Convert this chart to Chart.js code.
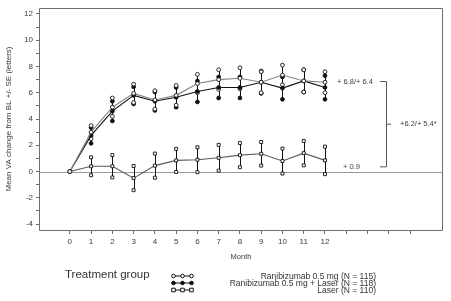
<!DOCTYPE html>
<html>
<head>
<meta charset="utf-8">
<script src="https://cdn.jsdelivr.net/npm/chart.js@4"></script>
<style>
  html, body { margin: 0; padding: 0; background: #fff; }
  #wrap { width: 451px; height: 301px; }
</style>
</head>
<body>
<div id="wrap"><canvas id="myChart" width="451" height="301"></canvas></div>
<script>
// meses
var months = [0, 1, 2, 3, 4, 5, 6, 7, 8, 9, 10, 11, 12];

// Ranibizumab 0.5 mg (circulo abierto)
var raniMean = [0, 3.0, 4.9, 5.95, 5.45, 5.8, 6.7, 7.0, 7.1, 6.8, 7.35, 6.9, 6.8];
var raniSE   = [0, 0.5, 0.7, 0.7, 0.7, 0.75, 0.7, 0.75, 0.8, 0.8, 0.75, 0.85, 0.8];

// Ranibizumab 0.5 mg + Laser (circulo lleno)
var comboMean = [0, 2.75, 4.6, 5.8, 5.35, 5.65, 6.1, 6.4, 6.4, 6.8, 6.35, 6.9, 6.4];
var comboSE   = [0, 0.6, 0.75, 0.65, 0.7, 0.75, 0.8, 0.8, 0.8, 0.85, 0.85, 0.85, 0.9];

// Laser (cuadrado)
var laserMean = [0, 0.4, 0.4, -0.5, 0.45, 0.85, 0.9, 1.05, 1.25, 1.35, 0.8, 1.4, 0.85];
var laserSE   = [0, 0.68, 0.85, 0.92, 0.92, 0.88, 0.95, 0.98, 0.92, 0.9, 0.95, 0.93, 1.05];

var seriesNames = ['Ranibizumab 0.5 mg (N = 115)', 'Ranibizumab 0.5 mg + Laser (N = 118)', 'Laser (N = 110)'];

// ticks
var xTicks = [0, 1, 2, 3, 4, 5, 6, 7, 8, 9, 10, 11, 12, 13, 14, 15, 16];
var yTicks = [-4, -3, -2, -1, 0, 1, 2, 3, 4, 5, 6, 7, 8, 9, 10, 11, 12];

var textColor = '#3a3a3a';
var frameColor = '#6e6e6e';
var fontFam = '"Liberation Sans", Arial, sans-serif';

function pts(means) {
  return months.map(function (m, i) { return { x: m, y: means[i] }; });
}
function caps(means, se) {
  var out = [];
  months.forEach(function (m, i) {
    if (se[i] > 0) {
      out.push({ x: m, y: means[i] + se[i] });
      out.push({ x: m, y: means[i] - se[i] });
    }
  });
  return out;
}

var styles = [
  { line: '#858585', bg: '#ffffff', shape: 'circle', r: 1.9 },
  { line: '#111111', bg: '#111111', shape: 'circle', r: 1.9 },
  { line: '#5a5a5a', bg: '#ffffff', shape: 'rect', r: 2.1 }
];
var allMeans = [raniMean, comboMean, laserMean];
var allSE = [raniSE, comboSE, laserSE];

var datasets = [];
allMeans.forEach(function (mean, k) {
  var s = styles[k];
  datasets.push({
    label: seriesNames[k],
    data: pts(mean),
    showLine: true,
    borderColor: s.line,
    borderWidth: 1.1,
    pointStyle: s.shape,
    pointRadius: s.r,
    pointBackgroundColor: s.bg,
    pointBorderColor: '#111',
    pointBorderWidth: 0.9,
    tension: 0
  });
});
// extremos de las barras de error
allMeans.forEach(function (mean, k) {
  var s = styles[k];
  datasets.push({
    label: 'se' + k,
    data: caps(mean, allSE[k]),
    showLine: false,
    pointStyle: s.shape,
    pointRadius: s.r,
    pointBackgroundColor: s.bg,
    pointBorderColor: '#111',
    pointBorderWidth: 0.9
  });
});

// barras de error, linea cero, marco, anotaciones y leyenda
var errorPlugin = {
  id: 'errorBars',
  beforeDatasetsDraw: function (chart) {
    var ctx = chart.ctx, xs = chart.scales.x, ys = chart.scales.y, a = chart.chartArea;
    ctx.save();
    // linea en cero
    ctx.strokeStyle = '#9a9a9a';
    ctx.lineWidth = 1;
    ctx.beginPath();
    var y0 = Math.round(ys.getPixelForValue(0)) + 0.5;
    ctx.moveTo(a.left, y0);
    ctx.lineTo(a.right, y0);
    ctx.stroke();
    // barras
    ctx.strokeStyle = '#111';
    allMeans.forEach(function (mean, k) {
      months.forEach(function (m, i) {
        if (allSE[k][i] <= 0) return;
        var px = Math.round(xs.getPixelForValue(m)) + 0.5;
        ctx.beginPath();
        ctx.moveTo(px, ys.getPixelForValue(mean[i] + allSE[k][i]));
        ctx.lineTo(px, ys.getPixelForValue(mean[i] - allSE[k][i]));
        ctx.stroke();
      });
    });
    ctx.restore();
  },
  afterDraw: function (chart) {
    var ctx = chart.ctx, a = chart.chartArea, ys = chart.scales.y;
    ctx.save();
    // marco
    var L = Math.round(a.left) + 0.5, R = Math.round(a.right) - 0.5;
    var T = Math.round(a.top) + 0.5, B = Math.round(a.bottom) + 0.5;
    ctx.strokeStyle = frameColor;
    ctx.lineWidth = 1;
    ctx.beginPath();
    ctx.moveTo(L, T); ctx.lineTo(R, T);
    ctx.lineTo(R, B); ctx.lineTo(L, B);
    ctx.closePath();
    ctx.stroke();

    // anotaciones
    ctx.fillStyle = textColor;
    ctx.font = '7.5px ' + fontFam;
    ctx.textBaseline = 'middle';
    ctx.textAlign = 'left';
    var yTop = ys.getPixelForValue(6.85);
    var yBot = ys.getPixelForValue(0.36);
    var yMid = (yTop + yBot) / 2;
    ctx.fillText('+ 6.8/+ 6.4', 337, yTop);
    ctx.fillText('+ 0.9', 343, yBot);
    ctx.fillText('+6.2/+ 5.4*', 400, yMid);
    // corchete
    ctx.strokeStyle = '#555';
    ctx.beginPath();
    ctx.moveTo(380, yTop); ctx.lineTo(386.5, yTop);
    ctx.lineTo(386.5, yBot); ctx.lineTo(380, yBot);
    ctx.moveTo(386.5, yMid); ctx.lineTo(391, yMid);
    ctx.stroke();

    // leyenda
    ctx.font = '11.5px ' + fontFam;
    ctx.fillStyle = '#333';
    ctx.fillText('Treatment group', 65, 275);
    ctx.font = '8.5px ' + fontFam;
    ctx.textAlign = 'right';
    var rows = [277, 284, 291];
    styles.forEach(function (s, k) {
      var y = rows[k];
      ctx.strokeStyle = '#111';
      ctx.lineWidth = 1;
      ctx.beginPath();
      ctx.moveTo(172, y - 1); ctx.lineTo(193, y - 1);
      ctx.stroke();
      [173.5, 182.5, 191.5].forEach(function (x) {
        ctx.beginPath();
        if (s.shape === 'rect') {
          ctx.rect(x - 1.8, y - 2.8, 3.6, 3.6);
        } else {
          ctx.arc(x, y - 1, 1.8, 0, Math.PI * 2);
        }
        ctx.fillStyle = s.bg;
        ctx.fill();
        ctx.stroke();
      });
      ctx.fillStyle = '#333';
      ctx.fillText(seriesNames[k], 376, y);
    });
    ctx.restore();
  }
};

var ctx = document.getElementById('myChart').getContext('2d');
var myChart = new Chart(ctx, {
  type: 'scatter',
  data: { datasets: datasets },
  options: {
    responsive: false,
    animation: false,
    layout: { padding: { left: 0, top: 8, right: 8, bottom: 40 } },
    plugins: {
      legend: { display: false },
      tooltip: { enabled: false }
    },
    scales: {
      x: {
        type: 'linear',
        min: -1.45,
        max: 17.55,
        afterBuildTicks: function (s) {
          s.ticks = xTicks.map(function (v) { return { value: v }; });
        },
        afterFit: function (s) { s.height = 31; },
        grid: { drawOnChartArea: false, drawTicks: true, tickLength: 4, color: frameColor },
        border: { display: false },
        ticks: {
          autoSkip: false,
          maxRotation: 0,
          padding: 3,
          color: textColor,
          font: { family: fontFam, size: 8 },
          callback: function (v) { return v <= 12 ? String(v) : ''; }
        },
        title: {
          display: true,
          text: 'Month',
          color: textColor,
          padding: { top: 3, bottom: 0 },
          font: { family: fontFam, size: 7.5 }
        }
      },
      y: {
        type: 'linear',
        min: -4.45,
        max: 12.45,
        afterBuildTicks: function (s) {
          s.ticks = yTicks.map(function (v) { return { value: v }; });
        },
        afterFit: function (s) { s.width = 39; },
        grid: { drawOnChartArea: false, drawTicks: true, tickLength: 3, color: frameColor },
        border: { display: false },
        ticks: {
          autoSkip: false,
          padding: 3,
          color: textColor,
          font: { family: fontFam, size: 8 },
          callback: function (v) { return v % 2 === 0 ? String(v) : ''; }
        },
        title: {
          display: true,
          text: 'Mean VA change from BL +/- SE (letters)',
          color: textColor,
          padding: { top: 4, bottom: 2 },
          font: { family: fontFam, size: 8 }
        }
      }
    }
  },
  plugins: [errorPlugin]
});
</script>
</body>
</html>
